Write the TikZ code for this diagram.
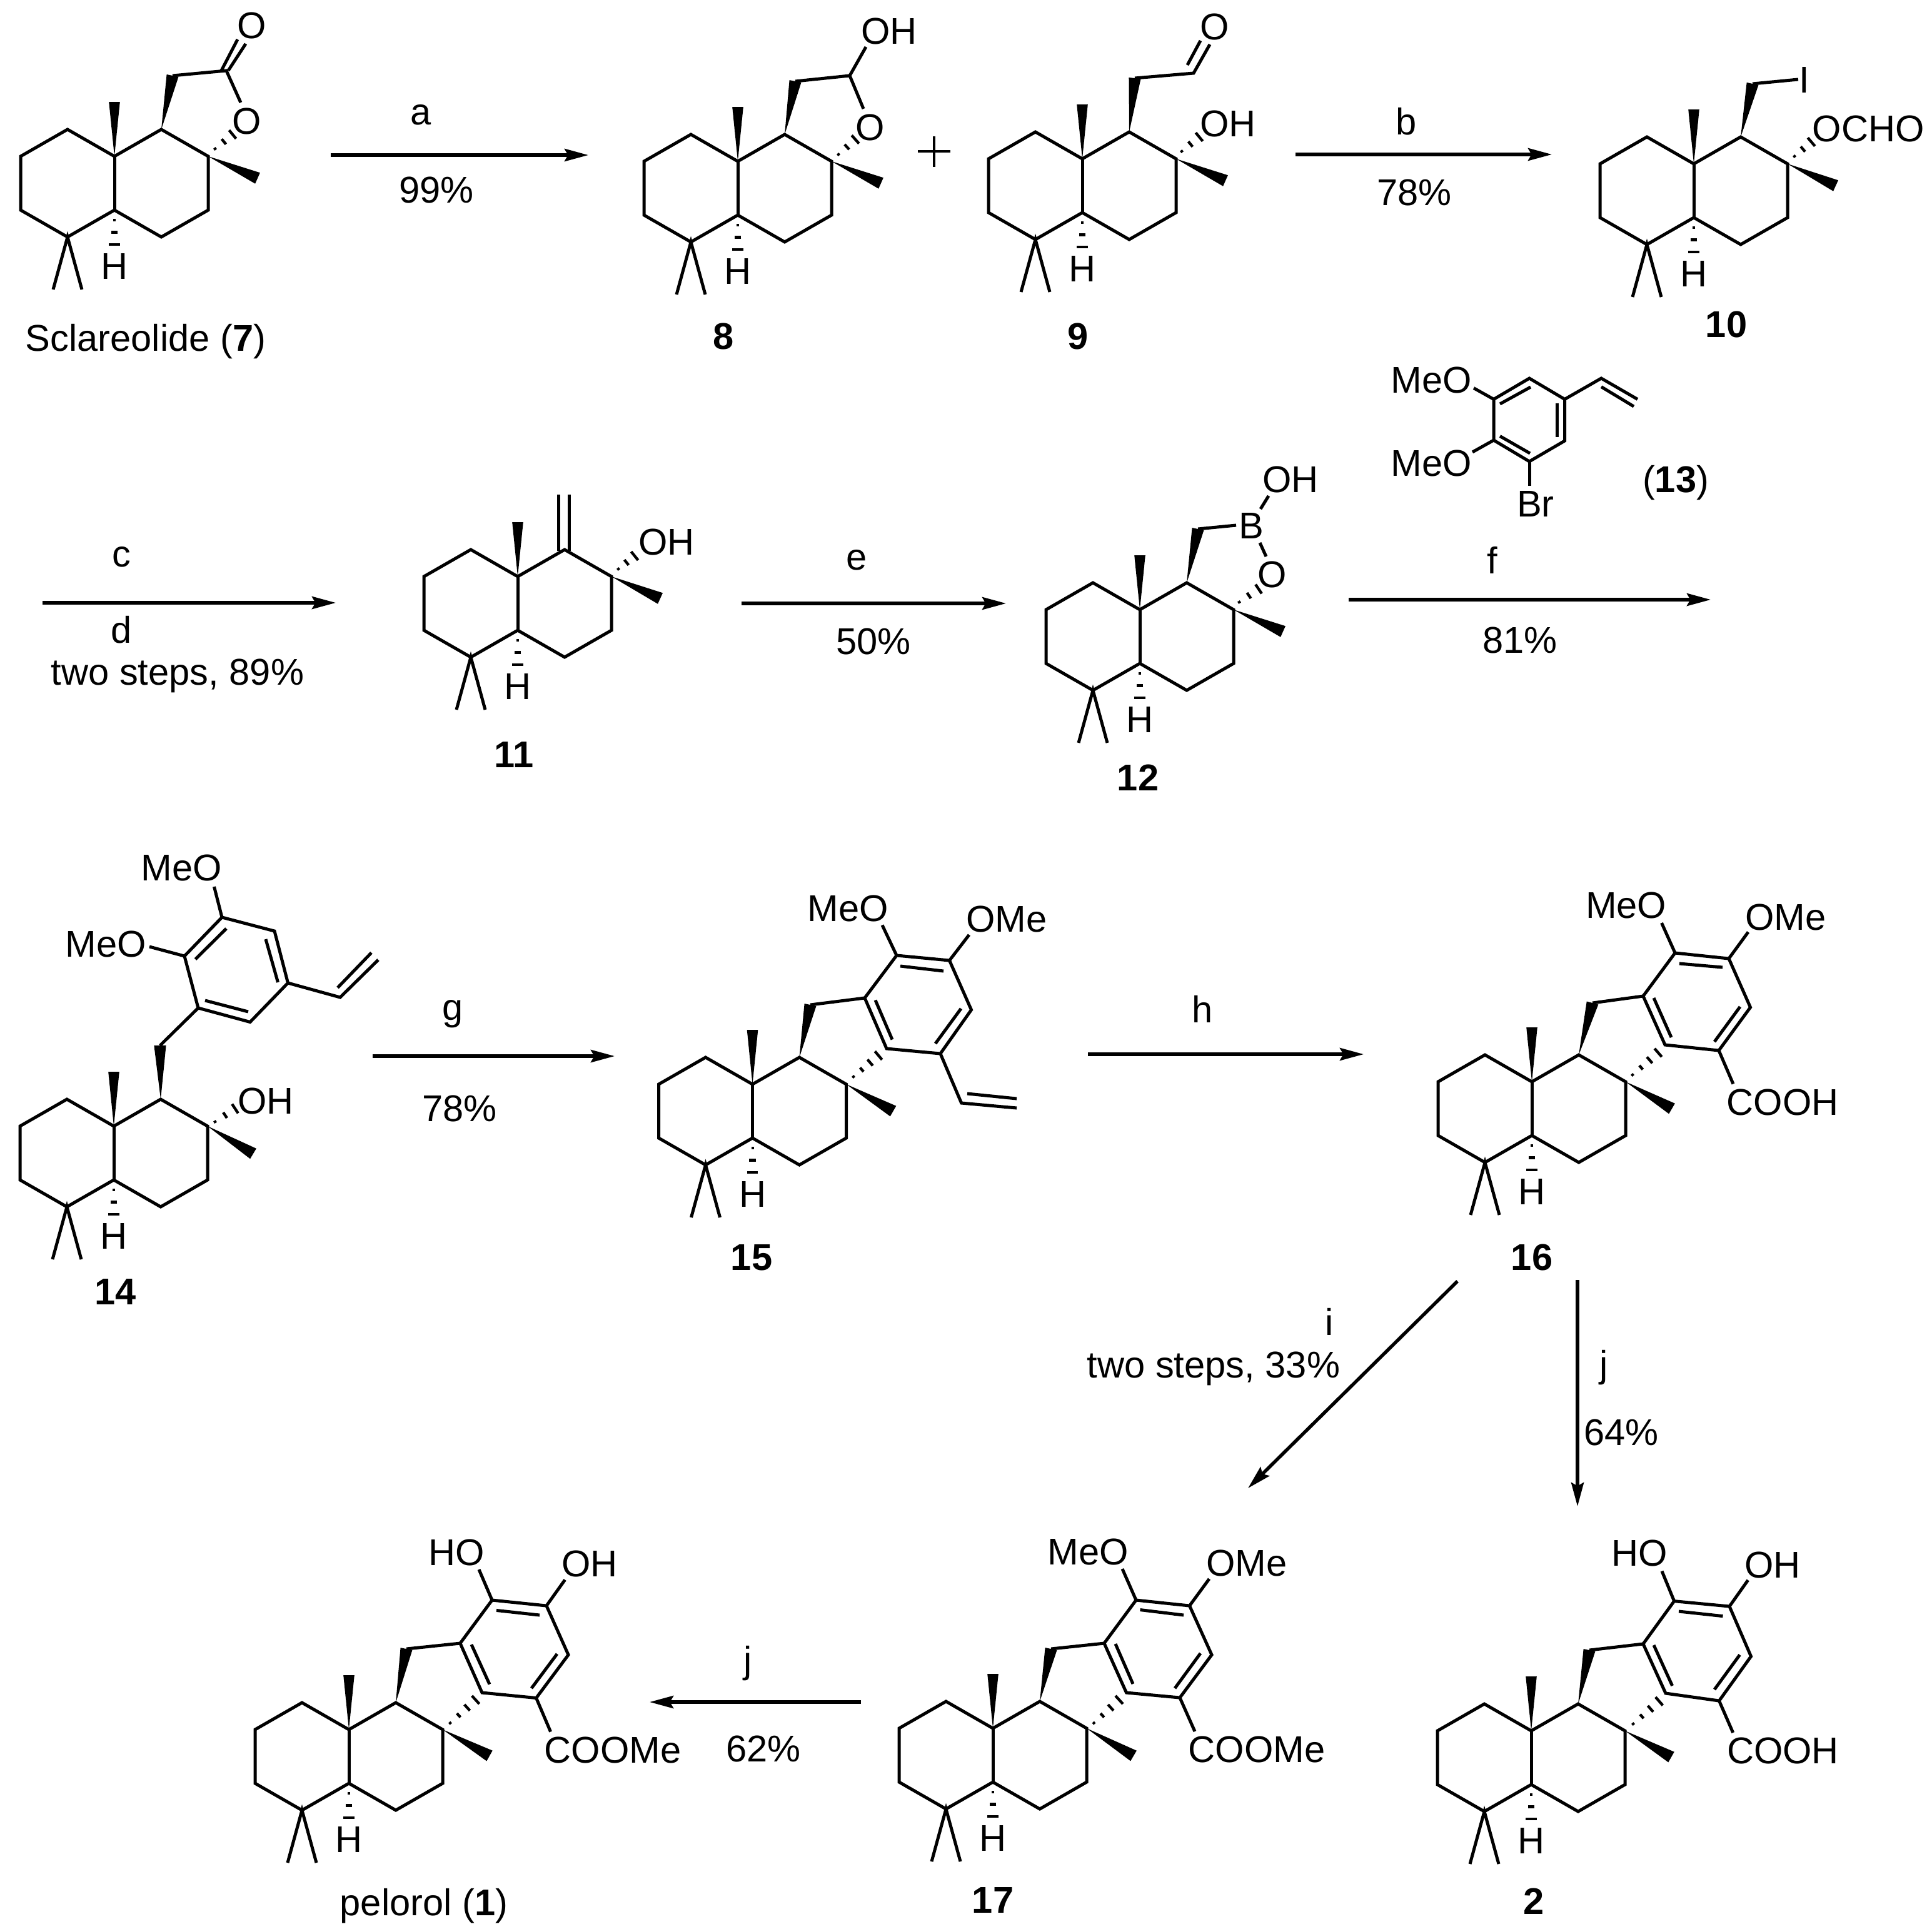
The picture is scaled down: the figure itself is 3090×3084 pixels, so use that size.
\documentclass[tikz,border=0pt]{standalone}
\usepackage{fontspec}
\setmainfont{Liberation Sans}
\usetikzlibrary{calc,arrows.meta}
\tikzset{
  bond/.style={line width=1.25pt,line join=miter},
  hashstroke/.style={line width=1.1pt},
  lab/.style={font=\fontsize{14.9}{16}\selectfont,inner sep=0pt,text=black},
  rxn/.style={line width=1.35pt,-{Stealth[length=9.5pt,width=5pt,inset=1.4pt]}},
  thinline/.style={line width=0.8pt}
}
\newcommand\wdg[3]{\fill #1 -- ($#2!#3!90:#1$) -- ($#2!#3!-90:#1$) -- cycle;}
\newcommand\hashbond[3]{%
  \coordinate (hr) at ($#1!2!#2$);
  \foreach \i in {1,...,#3}{%
    \pgfmathsetmacro\tt{(\i-1)/(#3-1)}%
    \pgfmathsetmacro\ww{0.5+\tt*1.7}%
    \coordinate (hc) at ($#1!\tt!#2$);
    \draw[hashstroke] ($(hc)!\ww pt!90:(hr)$) -- ($(hc)!\ww pt!-90:(hr)$);
  }}
\newcommand\skel[5]{%
  \begin{scope}[shift={(#2,#3)}]
    \coordinate (#1a) at (-75,-43);
    \coordinate (#1b) at (-150,0);
    \coordinate (#1c) at (-150,86);
    \coordinate (#1d) at (-75,129);
    \coordinate (#1e) at (0,86);
    \coordinate (#1f) at (0,0);
    \coordinate (#1g) at (75,-43);
    \coordinate (#1h) at (150,0);
    \coordinate (#1i) at (150,86);
    \coordinate (#1j) at (75,129);
    \coordinate (#1m) at (0,-87);
    \coordinate (#1t) at (150+#4,#5);
    \coordinate (#1p) at (0,102);
    \coordinate (#1q) at (0,141);
    \draw[bond] (#1f) -- (#1a) -- (#1b) -- (#1c) -- (#1d) -- (#1e) -- (#1j) -- (#1i) -- (#1h) -- (#1g) -- cycle;
    \draw[bond] (#1f) -- (#1e);
    \coordinate (#1u) at (-98,213);
    \coordinate (#1v) at (-52,213);
    \draw[bond] (#1u) -- (#1d) -- (#1v);
    \wdg{(#1f)}{(#1m)}{2.2pt}
    \wdg{(#1h)}{(#1t)}{2.4pt}
    \hashbond{(#1p)}{(#1q)}{3}
    \node[lab] (#1H) at (0,176) {H};
  \end{scope}}
\begin{document}
\begin{tikzpicture}[x=0.25pt,y=-0.25pt]
\useasboundingbox (0,0) rectangle (3090,3084);

% ---------- 7
\skel{A}{183}{250}{79}{35}
\wdg{(Ag)}{(276,121)}{2.4pt}
\draw[bond] (276,121) -- (362,113) -- (385,164);
\draw[bond] (354,113) -- (380,63);
\draw[bond] (365,113) -- (393,70);
\hashbond{(344,238)}{(372,215)}{3}
\node[lab] (A1) at (403,41) {O};
\node[lab] (A2) at (395,194) {O};
\node[lab] (A3) at (233,546) {Sclareolide ({\bfseries 7})};

% ---------- arrow a
\coordinate (as) at (529,248); \coordinate (ae) at (941,248);
\draw[rxn] (as) -- (ae);
\node[lab] (la) at (673,184) {a};
\node[lab] (ya) at (698,304) {99\%};

% ---------- 8
\skel{B}{1180}{258}{79}{35}
\wdg{(Bg)}{(1272,130)}{2.4pt}
\draw[bond] (1272,130) -- (1359,121) -- (1385,75);
\draw[bond] (1359,121) -- (1381,174);
\hashbond{(1341,247)}{(1368,223)}{3}
\node[lab] (B1) at (1422,50) {OH};
\node[lab] (B2) at (1392,204) {O};
\node[lab] (B3) at (1157,538) {\bfseries 8};

% ---------- plus
\draw[thinline] (1468,242) -- (1520,242);
\draw[thinline] (1494,218) -- (1494,267);

% ---------- 9
\skel{C}{1731}{254}{79}{35}
\wdg{(Cg)}{(1815,125)}{2.4pt}
\draw[bond] (1815,125) -- (1909,117) -- (1935,71);
\draw[bond] (1899,104) -- (1920,65);
\hashbond{(1890,242)}{(1918,219)}{3}
\node[lab] (C1) at (1943,43) {O};
\node[lab] (C2) at (1964,198) {OH};
\node[lab] (C3) at (1724,538) {\bfseries 9};

% ---------- arrow b
\coordinate (bs) at (2072,247); \coordinate (be) at (2482,247);
\draw[rxn] (bs) -- (be);
\node[lab] (lb) at (2249,194) {b};
\node[lab] (yb) at (2262,308) {78\%};

% ---------- 10
\skel{D}{2709}{262}{77}{35}
\wdg{(Dg)}{(2803,134)}{2.4pt}
\draw[bond] (2803,134) -- (2876,127);
\hashbond{(2870,250)}{(2897,227)}{3}
\node[lab] (D1) at (2886,128) {I};
\node[lab] (D2) at (2988,206) {OCHO};
\node[lab] (D3) at (2761,519) {\bfseries 10};

% ---------- arrow c d
\coordinate (cs) at (68,964); \coordinate (ce) at (537,964);
\draw[rxn] (cs) -- (ce);
\node[lab] (lc) at (194,891) {c};
\node[lab] (ld) at (194,1007) {d};
\node[lab] (yc) at (284,1081) {two steps, 89\%};

% ---------- 11
\skel{E}{828}{922}{78}{35}
\draw[bond] (893,881) -- (893,791);
\draw[bond] (910,881) -- (910,791);
\hashbond{(989,910)}{(1015,889)}{3}
\node[lab] (E1) at (1066,867) {OH};
\node[lab] (E2) at (822,1207) {\bfseries 11};

% ---------- arrow e
\coordinate (es) at (1186,965); \coordinate (ee) at (1609,965);
\draw[rxn] (es) -- (ee);
\node[lab] (le) at (1370,896) {e};
\node[lab] (ye) at (1397,1026) {50\%};

% ---------- 12
\skel{F}{1823}{975}{79}{35}
\wdg{(Fg)}{(1916,846)}{2.4pt}
\draw[bond] (1916,846) -- (1977,840);
\draw[bond] (2016,814) -- (2029,793);
\draw[bond] (2015,868) -- (2025,890);
\hashbond{(1982,963)}{(2013,942)}{3}
\node[lab] (F1) at (2001,841) {B};
\node[lab] (F2) at (2064,767) {OH};
\node[lab] (F3) at (2035,919) {O};
\node[lab] (F4) at (1820,1244) {\bfseries 12};

% ---------- 13
\draw[bond] (2446,605) -- (2502.5,638.5) -- (2502.5,705) -- (2446,738) -- (2389,704) -- (2389,638.5) -- cycle;
\draw[bond] (2399,646) -- (2448,619);
\draw[bond] (2490.5,644.5) -- (2490.5,698.5);
\draw[bond] (2399,697.5) -- (2447,725);
\draw[bond] (2502.5,638.5) -- (2561,605) -- (2619,638.5);
\draw[bond] (2561,618.6) -- (2613,650);
\draw[bond] (2389,638.5) -- (2357,620.6);
\draw[bond] (2389,704) -- (2355,723);
\draw[bond] (2446,738) -- (2446,776.5);
\node[lab] (G1) at (2289,608) {MeO};
\node[lab] (G2) at (2289,741) {MeO};
\node[lab] (G3) at (2456,806) {Br};
\node[lab] (G4) at (2680,772) {({\bfseries 13})};

% ---------- arrow f
\coordinate (fs) at (2157,959); \coordinate (fe) at (2736,959);
\draw[rxn] (fs) -- (fe);
\node[lab] (lf) at (2387,896) {f};
\node[lab] (yf) at (2431,1024) {81\%};

% ---------- 14
\skel{H}{182}{1801}{73}{44}
\wdg{(Hg)}{(256,1672)}{2.4pt}
\draw[bond] (256,1672) -- (317,1612);
\draw[bond] (317,1612) -- (400,1634.5) -- (460.5,1572) -- (439,1489) -- (355,1467) -- (295,1529) -- cycle;
\draw[bond] (328,1600) -- (397,1618);
\draw[bond] (444.5,1571) -- (425,1502);
\draw[bond] (362,1485) -- (312.5,1534);
\draw[bond] (355,1467) -- (342.5,1418);
\draw[bond] (295,1529) -- (239,1514);
\draw[bond] (460.5,1572) -- (544,1595) -- (605,1535);
\draw[bond] (540,1579.6) -- (594,1523.6);
\hashbond{(344,1794)}{(376,1773)}{3}
\node[lab] (H1) at (290,1388) {MeO};
\node[lab] (H2) at (169,1510) {MeO};
\node[lab] (H3) at (425,1761) {OH};
\node[lab] (H4) at (185,2066) {\bfseries 14};

% ---------- arrow g
\coordinate (gs) at (596,1689); \coordinate (ge) at (983,1689);
\draw[rxn] (gs) -- (ge);
\node[lab] (lg) at (724,1622) {g};
\node[lab] (yg) at (735,1773) {78\%};

% ---------- 15
\skel{I}{1203.5}{1734}{75}{43}
\wdg{(Ig)}{(1296,1607)}{2.4pt}
\draw[bond] (1296,1607) -- (1383,1596);
\draw[bond] (1383,1596) -- (1434,1528) -- (1518.5,1536) -- (1553.5,1615) -- (1504,1685) -- (1418,1677) -- cycle;
\draw[bond] (1400,1599.5) -- (1427,1662.5);
\draw[bond] (1440,1545) -- (1509,1553);
\draw[bond] (1537,1613) -- (1496,1669);
\hashbond{(1365,1722)}{(1405,1688)}{4}
\draw[bond] (1434,1528) -- (1411,1479.5);
\draw[bond] (1518.5,1536) -- (1550,1495);
\draw[bond] (1504,1685) -- (1537.6,1764) -- (1626,1772);
\draw[bond] (1547,1749) -- (1626,1757);
\node[lab] (I1) at (1356,1453) {MeO};
\node[lab] (I2) at (1610,1470) {OMe};
\node[lab] (I3) at (1202,2011) {\bfseries 15};

% ---------- arrow h
\coordinate (hs) at (1740,1686); \coordinate (he) at (2181,1686);
\draw[rxn] (hs) -- (he);
\node[lab] (lh) at (1923,1614) {h};

% ---------- 16
\skel{J}{2450}{1730}{74}{43}
\wdg{(Jg)}{(2547,1604)}{2.4pt}
\draw[bond] (2547,1604) -- (2628,1593);
\draw[bond] (2628,1593) -- (2679,1524) -- (2765,1533) -- (2799.5,1611) -- (2749,1680) -- (2663,1671) -- cycle;
\draw[bond] (2645,1596) -- (2673,1659);
\draw[bond] (2686,1541) -- (2755,1547);
\draw[bond] (2783,1610) -- (2742,1666);
\hashbond{(2611,1719)}{(2652,1683.5)}{4}
\draw[bond] (2679,1524) -- (2657.5,1476);
\draw[bond] (2765,1533) -- (2796,1490.6);
\draw[bond] (2749,1680) -- (2772,1733.5);
\node[lab] (J1) at (2600.6,1448) {MeO};
\node[lab] (J2) at (2856,1467) {OMe};
\node[lab] (J3) at (2851,1762.5) {COOH};
\node[lab] (J4) at (2450,2011) {\bfseries 16};

% ---------- arrows i j
\coordinate (is) at (2331,2049); \coordinate (ie) at (1996,2380);
\draw[rxn] (is) -- (ie);
\node[lab] (li) at (2126,2114) {i};
\node[lab] (yi) at (1941,2189) {two steps, 33\%};
\coordinate (js) at (2523,2047); \coordinate (je) at (2523,2409);
\draw[rxn] (js) -- (je);
\node[lab] (lj) at (2565,2187) {j};
\node[lab] (yj) at (2593,2291) {64\%};

% ---------- 17
\skel{K}{1588}{2764}{75}{44}
\wdg{(Kg)}{(1681,2637)}{2.4pt}
\draw[bond] (1681,2637) -- (1766,2628);
\draw[bond] (1766,2628) -- (1817,2559) -- (1902.5,2568) -- (1938,2646.5) -- (1887,2715) -- (1801.5,2707) -- cycle;
\draw[bond] (1784,2629) -- (1812,2693);
\draw[bond] (1823.5,2574.5) -- (1893,2583);
\draw[bond] (1920,2644) -- (1879,2700);
\hashbond{(1749.5,2755.6)}{(1790,2718.5)}{4}
\draw[bond] (1817,2559) -- (1795,2509);
\draw[bond] (1902.5,2568) -- (1934,2525);
\draw[bond] (1887,2715) -- (1911,2769);
\node[lab] (K1) at (1740,2482) {MeO};
\node[lab] (K2) at (1994,2500) {OMe};
\node[lab] (K3) at (2010,2798) {COOMe};
\node[lab] (K4) at (1588,3039) {\bfseries 17};

% ---------- 2
\skel{L}{2449}{2768}{74}{42}
\wdg{(Lg)}{(2542,2639)}{2.4pt}
\draw[bond] (2542,2639) -- (2628,2629);
\draw[bond] (2628,2629) -- (2677.6,2560.6) -- (2766,2569) -- (2800.5,2649) -- (2749.5,2720) -- (2664,2708) -- cycle;
\draw[bond] (2645,2631) -- (2674.6,2696);
\draw[bond] (2685,2577) -- (2755.5,2584.6);
\draw[bond] (2782.5,2646.5) -- (2742,2702);
\hashbond{(2612,2757)}{(2653.6,2720.7)}{4}
\draw[bond] (2677.6,2560.6) -- (2658,2512.6);
\draw[bond] (2766,2569) -- (2795.7,2527);
\draw[bond] (2749.5,2720) -- (2771.7,2771);
\node[lab] (L1) at (2622.4,2484) {HO};
\node[lab] (L2) at (2835,2502.5) {OH};
\node[lab] (L3) at (2851.4,2800) {COOH};
\node[lab] (L4) at (2453,3041) {\bfseries 2};

% ---------- arrow j (lower)
\coordinate (ks) at (1376.5,2722); \coordinate (ke) at (1039,2722);
\draw[rxn] (ks) -- (ke);
\node[lab] (lk) at (1196,2660) {j};
\node[lab] (yk) at (1221,2797) {62\%};

% ---------- 1
\skel{M}{558}{2766}{75}{42}
\wdg{(Mg)}{(650,2637)}{2.4pt}
\draw[bond] (650,2637) -- (736,2628);
\draw[bond] (736,2628) -- (787,2559) -- (874,2568) -- (909,2646.5) -- (857.6,2715.5) -- (771,2707) -- cycle;
\draw[bond] (754,2630) -- (783,2693.6);
\draw[bond] (794,2575.4) -- (863,2583);
\draw[bond] (891,2645) -- (850,2700);
\hashbond{(720,2755.6)}{(760.7,2718.5)}{4}
\draw[bond] (787,2559) -- (766,2510);
\draw[bond] (874,2568) -- (903.6,2526.5);
\draw[bond] (857.6,2715.5) -- (880.6,2769.5);
\node[lab] (M1) at (730,2483) {HO};
\node[lab] (M2) at (943,2501) {OH};
\node[lab] (M3) at (980,2799) {COOMe};
\node[lab] (M4) at (678,3048) {pelorol ({\bfseries 1})};
\end{tikzpicture}
\end{document}
